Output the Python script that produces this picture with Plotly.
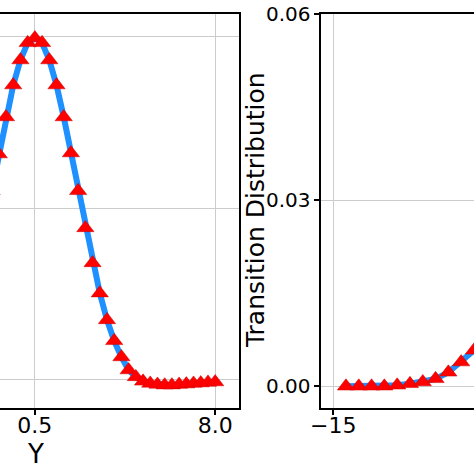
import plotly.graph_objects as go

# Left panel data (x step 0.3, peak at 0.5)
left_x = [-1.6, -1.3, -1.0, -0.7, -0.4, -0.1, 0.2, 0.5, 0.8, 1.1, 1.4, 1.7, 2.0, 2.3,
          2.6, 2.9, 3.2, 3.5, 3.8, 4.1, 4.4, 4.7, 5.0, 5.3, 5.6, 5.9, 6.2, 6.5,
          6.8, 7.1, 7.4, 7.7, 8.0]
left_y = [0.443, 0.551, 0.658, 0.766, 0.859, 0.932, 0.982, 0.996, 0.982, 0.932, 0.859,
          0.766, 0.661, 0.551, 0.443, 0.341, 0.253, 0.175, 0.114, 0.067, 0.029,
          0.009, -0.004, -0.010, -0.013, -0.015, -0.015, -0.013, -0.012, -0.010,
          -0.009, -0.007, -0.006]
left_xticks = [-7.0, 0.5, 8.0]
left_xticktext = ["\u22127.0", "0.5", "8.0"]
left_yticks = [0.0, 0.5, 1.0]

# Right panel data
right_x = [-14, -13, -12, -11, -10, -9, -8, -7, -6, -5, -4, -3, -2]
right_y = [0.0, 0.0, 0.0, 0.0, 0.00016, 0.0004, 0.0007, 0.0012, 0.00225, 0.0039,
           0.0058, 0.0085, 0.012]
right_xticks = [-15, 0, 15]
right_xticktext = ["\u221215", "0", "15"]
right_yticks = [0.0, 0.03, 0.06]
right_yticktext = ["0.00", "0.03", "0.06"]

FONT = "DejaVu Sans"
BLUE = "#1E90FF"
RED = "#FF0000"
GRID = "#cccccc"
W = H = 474

fig = go.Figure()
for xs, ys, xa, ya in [(left_x, left_y, "x", "y"), (right_x, right_y, "x2", "y2")]:
    fig.add_trace(go.Scatter(x=xs, y=ys, mode="lines", xaxis=xa, yaxis=ya,
                             line=dict(color=BLUE, width=6), showlegend=False))
    fig.add_trace(go.Scatter(x=xs, y=ys, mode="markers", xaxis=xa, yaxis=ya,
                             marker=dict(symbol="triangle-up", size=15, color=RED,
                                         line=dict(color="#d00000", width=0.5)),
                             showlegend=False))

ybot = (H - 408) / H
ytop = (H - 14) / H
base = dict(showgrid=True, gridcolor=GRID, gridwidth=1, zeroline=False,
            linecolor="black", linewidth=2, tickwidth=1.5, tickcolor="black",
            automargin=False)
xfont = dict(family=FONT, size=22, color="black")
yfont = dict(family=FONT, size=20, color="black")

fig.update_layout(
    template="none",
    width=W, height=H, margin=dict(l=0, r=0, t=0, b=0, autoexpand=False),
    paper_bgcolor="white", plot_bgcolor="white",
    xaxis=dict(domain=[0, 238.5 / W], range=[-0.95, 8.97], tickvals=left_xticks,
               ticktext=left_xticktext, showline=True, mirror=True, anchor="y",
               ticks="outside", ticklen=5, ticklabelstandoff=-8, tickfont=xfont,
               **base),
    yaxis=dict(domain=[ybot, ytop], range=[-0.0816, 1.0661], tickvals=left_yticks,
               showticklabels=False, showline=True, side="right", anchor="x",
               ticks="", tickfont=yfont, **base),
    xaxis2=dict(domain=[320.5 / W, 1], range=[-15.99, -3.998], tickvals=right_xticks,
                ticktext=right_xticktext, showline=True, mirror=True, anchor="y2",
                ticks="outside", ticklen=5, ticklabelstandoff=-8, tickfont=xfont,
                **base),
    yaxis2=dict(domain=[ybot, ytop], range=[-0.0035, 0.06], tickvals=right_yticks,
                ticktext=right_yticktext, showline=True, anchor="x2",
                ticks="outside", ticklen=5, ticklabelstandoff=-1, tickfont=yfont,
                **base),
    annotations=[
        dict(text="Y", x=35 / W, y=(H - 454) / H, xref="paper", yref="paper",
             showarrow=False, font=dict(family=FONT, size=26, color="black"),
             xanchor="center", yanchor="middle"),
        dict(text="Transition Distribution", x=255 / W, y=(H - 210) / H,
             xref="paper", yref="paper", showarrow=False, textangle=-90,
             font=dict(family=FONT, size=25, color="black"),
             xanchor="center", yanchor="middle"),
    ],
)

fig.write_html("out.html")
